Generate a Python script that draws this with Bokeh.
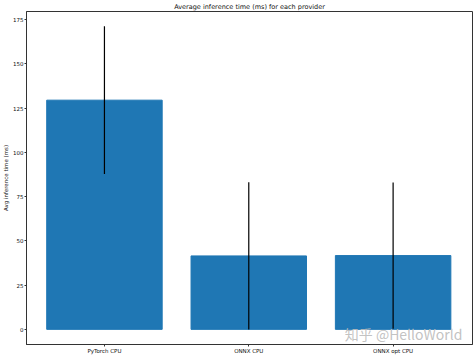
from bokeh.plotting import figure
from bokeh.models import ColumnDataSource, Range1d, FixedTicker, Label, Title
from bokeh.embed import file_html
from bokeh.resources import INLINE

providers = ["PyTorch CPU", "ONNX CPU", "ONNX opt CPU"]
avg_ms = [129.5, 41.5, 41.7]
std_ms = [41.7, 41.6, 41.3]
y_ticks = [0, 25, 50, 75, 100, 125, 150, 175]

xs = list(range(len(providers)))
src = ColumnDataSource(dict(
    x=xs, top=avg_ms,
    lower=[a - s for a, s in zip(avg_ms, std_ms)],
    upper=[a + s for a, s in zip(avg_ms, std_ms)],
))

FONT = "DejaVu Sans"
p = figure(width=474, height=356, output_backend="svg", toolbar_location=None,
           x_range=Range1d(-0.54, 2.55), y_range=Range1d(-8.55, 179.6),
           min_border_left=0, min_border_right=2, min_border_top=1, min_border_bottom=1)
p.add_layout(Title(text="Average inference time (ms) for each provider", align="center",
                   text_font=FONT, text_font_size="6.5px", text_font_style="normal",
                   text_color="#111111", standoff=1), "above")

p.vbar(x="x", top="top", bottom=0, width=0.8, source=src, color="#1f77b4")
p.segment(x0="x", y0="lower", x1="x", y1="upper", source=src, line_color="black", line_width=1.2)

p.grid.visible = False
p.outline_line_color = "#333333"
p.outline_line_width = 1
p.background_fill_color = "white"
p.border_fill_color = "white"

p.xaxis.ticker = FixedTicker(ticks=xs)
p.xaxis.major_label_overrides = {i: n for i, n in enumerate(providers)}
p.yaxis.ticker = FixedTicker(ticks=y_ticks)
p.yaxis.axis_label = "Avg inference time (ms)"
for ax in (p.xaxis[0], p.yaxis[0]):
    ax.major_label_text_font = FONT
    ax.major_label_text_font_size = "5.5px"
    ax.major_label_text_color = "#111111"
    ax.axis_label_text_font = FONT
    ax.axis_label_text_font_size = "5.5px"
    ax.axis_label_text_font_style = "normal"
    ax.axis_label_text_color = "#111111"
    ax.axis_label_standoff = 1
    ax.major_tick_out = 2
    ax.major_tick_in = 0
    ax.minor_tick_out = 0
    ax.minor_tick_in = 0
    ax.major_label_standoff = 1
    ax.axis_line_color = "#333333"
    ax.major_tick_line_color = "#333333"

p.add_layout(Label(x=2.48, y=-8.5, text="知乎 @HelloWorld", text_align="right",
                   text_font="Noto Sans CJK SC", text_font_size="14px",
                   text_color="#bbbbbb", text_alpha=0.9))

open("out.html", "w").write(file_html(p, INLINE))
